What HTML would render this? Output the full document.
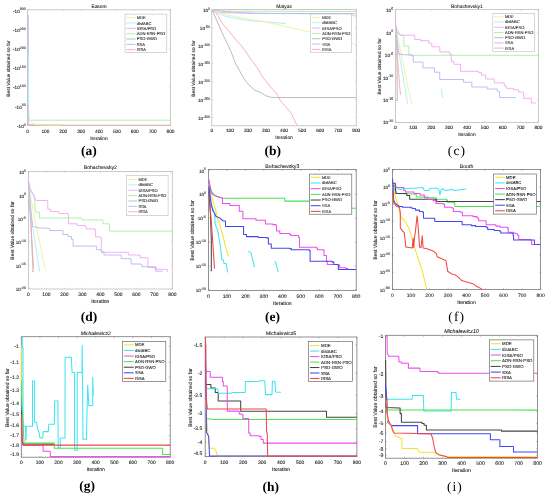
<!DOCTYPE html><html><head><meta charset="utf-8"><title>Convergence curves</title><style>html,body{margin:0;padding:0;background:#fff;overflow:hidden}svg{display:block;text-rendering:geometricPrecision}text{font-family:"Liberation Sans",Arial,sans-serif;fill:#1a1a1a;stroke:#1a1a1a;stroke-width:0.09px}text.cap{font-family:"Liberation Serif","Times New Roman",serif;fill:#000;stroke:none}</style></head><body>
<svg width="550" height="498" viewBox="0 0 550 498"><rect width="550" height="498" fill="#fff"/>
<g id="pa">
<clipPath id="ca"><rect x="26.90" y="9.20" width="144.20" height="117.00"/></clipPath>
<path d="M27.50,125.6v-1.4M27.50,9.8v1.4M45.38,125.6v-1.4M45.38,9.8v1.4M63.25,125.6v-1.4M63.25,9.8v1.4M81.12,125.6v-1.4M81.12,9.8v1.4M99.00,125.6v-1.4M99.00,9.8v1.4M116.88,125.6v-1.4M116.88,9.8v1.4M134.75,125.6v-1.4M134.75,9.8v1.4M152.62,125.6v-1.4M152.62,9.8v1.4M170.50,125.6v-1.4M170.50,9.8v1.4M27.5,10.20h1.4M170.5,10.20h-1.4M27.5,29.43h1.4M170.5,29.43h-1.4M27.5,48.67h1.4M170.5,48.67h-1.4M27.5,67.90h1.4M170.5,67.90h-1.4M27.5,87.13h1.4M170.5,87.13h-1.4M27.5,106.37h1.4M170.5,106.37h-1.4M27.5,125.60h1.4M170.5,125.60h-1.4" stroke="#bdbdbd" stroke-width="0.5" fill="none"/>
<rect x="27.5" y="9.8" width="143.00" height="115.80" fill="none" stroke="#bdbdbd" stroke-width="0.8"/>
<g clip-path="url(#ca)" fill="none" stroke-linejoin="round">
<polyline points="28.00,122.00 28.50,125.20 170.50,125.20" stroke="#f4aaaa" stroke-width="0.9"/>
<polyline points="28.20,120.00 28.80,125.00 60.00,125.10" stroke="#b4b4b4" stroke-width="0.9"/>
<polyline points="28.30,14.80 28.30,125.00 31.00,125.00" stroke="#b8b8f2" stroke-width="0.9"/>
<polyline points="28.50,53.00 28.50,124.50" stroke="#a6eef6" stroke-width="0.9"/>
<polyline points="28.00,105.50 28.10,125.00 30.50,125.10" stroke="#f3a6f3" stroke-width="0.9"/>
<polyline points="28.60,112.00 29.30,120.20 170.50,120.20" stroke="#a8eea8" stroke-width="0.9"/>
<polyline points="28.70,119.50 31.00,122.50 35.00,124.30 42.00,125.00 60.00,125.20" stroke="#f2ee9a" stroke-width="0.9"/>
</g>
<text x="27.50" y="132.72" font-size="4.79" text-anchor="middle">0</text>
<text x="45.38" y="132.72" font-size="4.79" text-anchor="middle">100</text>
<text x="63.25" y="132.72" font-size="4.79" text-anchor="middle">200</text>
<text x="81.12" y="132.72" font-size="4.79" text-anchor="middle">300</text>
<text x="99.00" y="132.72" font-size="4.79" text-anchor="middle">400</text>
<text x="116.88" y="132.72" font-size="4.79" text-anchor="middle">500</text>
<text x="134.75" y="132.72" font-size="4.79" text-anchor="middle">600</text>
<text x="152.62" y="132.72" font-size="4.79" text-anchor="middle">700</text>
<text x="170.50" y="132.72" font-size="4.79" text-anchor="middle">800</text>
<text x="25.70" y="12.55" font-size="4.60" text-anchor="end">-10<tspan font-size="3.60" dy="-2.26">300</tspan></text>
<text x="25.70" y="31.78" font-size="4.60" text-anchor="end">-10<tspan font-size="3.60" dy="-2.26">250</tspan></text>
<text x="25.70" y="51.01" font-size="4.60" text-anchor="end">-10<tspan font-size="3.60" dy="-2.26">200</tspan></text>
<text x="25.70" y="70.25" font-size="4.60" text-anchor="end">-10<tspan font-size="3.60" dy="-2.26">150</tspan></text>
<text x="25.70" y="89.48" font-size="4.60" text-anchor="end">-10<tspan font-size="3.60" dy="-2.26">100</tspan></text>
<text x="25.70" y="108.71" font-size="4.60" text-anchor="end">-10<tspan font-size="3.60" dy="-2.26">50</tspan></text>
<text x="25.70" y="127.95" font-size="4.60" text-anchor="end">-10<tspan font-size="3.60" dy="-2.26">0</tspan></text>
<text x="99.00" y="7.76" font-size="4.90" text-anchor="middle">Easom</text>
<text x="99.00" y="139.54" font-size="4.84" text-anchor="middle">Iteration</text>
<text transform="translate(10.14,68.55) rotate(-90)" font-size="4.84" text-anchor="middle">Best Value obtained so far</text>
<rect x="125" y="14.1" width="41.80" height="38.60" fill="#fff" stroke="#bdbdbd" stroke-width="0.6"/>
<line x1="126.4" y1="17.70" x2="135.6" y2="17.70" stroke="#f2ee9a" stroke-width="0.9"/>
<text x="136.8" y="19.17" font-size="4.07">MDE</text>
<line x1="126.4" y1="23.03" x2="135.6" y2="23.03" stroke="#a6eef6" stroke-width="0.9"/>
<text x="136.8" y="24.50" font-size="4.07">distABC</text>
<line x1="126.4" y1="28.36" x2="135.6" y2="28.36" stroke="#f3a6f3" stroke-width="0.9"/>
<text x="136.8" y="29.83" font-size="4.07">IGSA/PSO</text>
<line x1="126.4" y1="33.69" x2="135.6" y2="33.69" stroke="#a8eea8" stroke-width="0.9"/>
<text x="136.8" y="35.16" font-size="4.07">ADN-RSN-PSO</text>
<line x1="126.4" y1="39.02" x2="135.6" y2="39.02" stroke="#b4b4b4" stroke-width="0.9"/>
<text x="136.8" y="40.49" font-size="4.07">PSO-GWO</text>
<line x1="126.4" y1="44.35" x2="135.6" y2="44.35" stroke="#b8b8f2" stroke-width="0.9"/>
<text x="136.8" y="45.82" font-size="4.07">SSA</text>
<line x1="126.4" y1="49.68" x2="135.6" y2="49.68" stroke="#f4aaaa" stroke-width="0.9"/>
<text x="136.8" y="51.15" font-size="4.07">ISSA</text>
<text class="cap" x="88.90" y="155.00" font-size="13.5" text-anchor="middle" font-weight="bold">(a)</text>
</g>
<g id="pb">
<clipPath id="cb"><rect x="211.20" y="9.00" width="145.70" height="117.40"/></clipPath>
<path d="M211.80,125.8v-1.4M211.80,9.6v1.4M229.86,125.8v-1.4M229.86,9.6v1.4M247.93,125.8v-1.4M247.93,9.6v1.4M265.99,125.8v-1.4M265.99,9.6v1.4M284.05,125.8v-1.4M284.05,9.6v1.4M302.11,125.8v-1.4M302.11,9.6v1.4M320.18,125.8v-1.4M320.18,9.6v1.4M338.24,125.8v-1.4M338.24,9.6v1.4M356.30,125.8v-1.4M356.30,9.6v1.4M211.8,10.00h1.4M356.3,10.00h-1.4M211.8,27.92h1.4M356.3,27.92h-1.4M211.8,45.83h1.4M356.3,45.83h-1.4M211.8,63.75h1.4M356.3,63.75h-1.4M211.8,81.67h1.4M356.3,81.67h-1.4M211.8,99.58h1.4M356.3,99.58h-1.4M211.8,117.50h1.4M356.3,117.50h-1.4" stroke="#bdbdbd" stroke-width="0.5" fill="none"/>
<rect x="211.8" y="9.6" width="144.50" height="116.20" fill="none" stroke="#bdbdbd" stroke-width="0.8"/>
<g clip-path="url(#cb)" fill="none" stroke-linejoin="round">
<polyline points="212.00,10.40 230.00,11.20 356.30,11.50" stroke="#a8eea8" stroke-width="0.9"/>
<polyline points="212.00,10.40 240.00,12.60 256.00,13.40 356.30,13.60" stroke="#f3a6f3" stroke-width="0.9"/>
<polyline points="212.00,10.40 220.00,12.60 268.00,13.50 352.00,13.90 353.50,15.80 356.30,15.90" stroke="#b8b8f2" stroke-width="0.9"/>
<polyline points="212.20,10.40 217.60,13.40 226.00,16.40 238.00,18.90 250.20,20.70 262.20,21.60 268.00,21.90 280.00,23.10 286.00,23.50" stroke="#a6eef6" stroke-width="0.9"/>
<polyline points="212.20,10.40 226.00,14.60 238.00,17.00 250.20,19.50 262.20,21.30 268.00,22.50 283.50,26.00 309.00,31.90 356.30,44.60" stroke="#f2ee9a" stroke-width="0.9"/>
<polyline points="212.20,10.40 215.20,17.00 220.00,27.90 223.70,36.30 228.50,46.00 232.10,54.40 235.70,64.00 240.10,71.60 244.60,79.80 249.10,85.10 255.10,90.40 261.10,92.60 265.70,95.70 270.20,97.20 276.20,97.50 356.30,97.50" stroke="#b4b4b4" stroke-width="0.9"/>
<polyline points="212.80,10.40 216.40,13.40 220.00,19.50 222.50,23.70 227.30,29.10 232.10,35.10 236.90,41.10 241.70,46.00 245.30,50.80 249.00,56.80 254.00,63.20 258.00,69.00 262.60,76.80 270.20,86.60 277.70,94.90 280.00,100.20 285.20,106.20 290.50,112.20 294.30,119.80 297.30,125.80" stroke="#f4aaaa" stroke-width="0.9"/>
</g>
<text x="211.80" y="132.41" font-size="4.78" text-anchor="middle">0</text>
<text x="229.86" y="132.41" font-size="4.78" text-anchor="middle">100</text>
<text x="247.93" y="132.41" font-size="4.78" text-anchor="middle">200</text>
<text x="265.99" y="132.41" font-size="4.78" text-anchor="middle">300</text>
<text x="284.05" y="132.41" font-size="4.78" text-anchor="middle">400</text>
<text x="302.11" y="132.41" font-size="4.78" text-anchor="middle">500</text>
<text x="320.18" y="132.41" font-size="4.78" text-anchor="middle">600</text>
<text x="338.24" y="132.41" font-size="4.78" text-anchor="middle">700</text>
<text x="356.30" y="132.41" font-size="4.78" text-anchor="middle">800</text>
<text x="209.90" y="12.33" font-size="4.55" text-anchor="end">10<tspan font-size="3.45" dy="-2.29">0</tspan></text>
<text x="209.90" y="30.25" font-size="4.55" text-anchor="end">10<tspan font-size="3.45" dy="-2.29">-50</tspan></text>
<text x="209.90" y="48.16" font-size="4.55" text-anchor="end">10<tspan font-size="3.45" dy="-2.29">-100</tspan></text>
<text x="209.90" y="66.08" font-size="4.55" text-anchor="end">10<tspan font-size="3.45" dy="-2.29">-150</tspan></text>
<text x="209.90" y="84.00" font-size="4.55" text-anchor="end">10<tspan font-size="3.45" dy="-2.29">-200</tspan></text>
<text x="209.90" y="101.91" font-size="4.55" text-anchor="end">10<tspan font-size="3.45" dy="-2.29">-250</tspan></text>
<text x="209.90" y="119.83" font-size="4.55" text-anchor="end">10<tspan font-size="3.45" dy="-2.29">-300</tspan></text>
<text x="284.05" y="7.86" font-size="4.88" text-anchor="middle">Matyas</text>
<text x="284.05" y="139.24" font-size="4.83" text-anchor="middle">Iteration</text>
<text transform="translate(195.14,68.50) rotate(-90)" font-size="4.83" text-anchor="middle">Best Value obtained so far</text>
<rect x="310.3" y="14.0" width="41.30" height="38.30" fill="#fff" stroke="#bdbdbd" stroke-width="0.6"/>
<line x1="312" y1="17.40" x2="320.4" y2="17.40" stroke="#f2ee9a" stroke-width="0.9"/>
<text x="322.2" y="18.86" font-size="4.06">MDE</text>
<line x1="312" y1="22.73" x2="320.4" y2="22.73" stroke="#a6eef6" stroke-width="0.9"/>
<text x="322.2" y="24.19" font-size="4.06">distABC</text>
<line x1="312" y1="28.06" x2="320.4" y2="28.06" stroke="#f3a6f3" stroke-width="0.9"/>
<text x="322.2" y="29.52" font-size="4.06">IGSA/PSO</text>
<line x1="312" y1="33.39" x2="320.4" y2="33.39" stroke="#a8eea8" stroke-width="0.9"/>
<text x="322.2" y="34.85" font-size="4.06">ADN-RSN-PSO</text>
<line x1="312" y1="38.72" x2="320.4" y2="38.72" stroke="#b4b4b4" stroke-width="0.9"/>
<text x="322.2" y="40.18" font-size="4.06">PSO-GWO</text>
<line x1="312" y1="44.05" x2="320.4" y2="44.05" stroke="#b8b8f2" stroke-width="0.9"/>
<text x="322.2" y="45.51" font-size="4.06">SSA</text>
<line x1="312" y1="49.38" x2="320.4" y2="49.38" stroke="#f4aaaa" stroke-width="0.9"/>
<text x="322.2" y="50.84" font-size="4.06">ISSA</text>
<text class="cap" x="272.80" y="155.00" font-size="13.5" text-anchor="middle" font-weight="bold">(b)</text>
</g>
<g id="pc">
<clipPath id="cc"><rect x="394.80" y="8.90" width="144.20" height="114.20"/></clipPath>
<path d="M395.40,122.5v-1.4M395.40,9.5v1.4M413.27,122.5v-1.4M413.27,9.5v1.4M431.15,122.5v-1.4M431.15,9.5v1.4M449.02,122.5v-1.4M449.02,9.5v1.4M466.90,122.5v-1.4M466.90,9.5v1.4M484.77,122.5v-1.4M484.77,9.5v1.4M502.65,122.5v-1.4M502.65,9.5v1.4M520.52,122.5v-1.4M520.52,9.5v1.4M538.40,122.5v-1.4M538.40,9.5v1.4M395.4,9.90h1.4M538.4,9.90h-1.4M395.4,32.32h1.4M538.4,32.32h-1.4M395.4,54.74h1.4M538.4,54.74h-1.4M395.4,77.16h1.4M538.4,77.16h-1.4M395.4,99.58h1.4M538.4,99.58h-1.4M395.4,122.00h1.4M538.4,122.00h-1.4" stroke="#bdbdbd" stroke-width="0.5" fill="none"/>
<rect x="395.4" y="9.5" width="143.00" height="113.00" fill="none" stroke="#bdbdbd" stroke-width="0.8"/>
<g clip-path="url(#cc)" fill="none" stroke-linejoin="round">
<polyline points="395.80,30.00 396.80,45.00 397.30,100.50 396.00,100.50" stroke="#b4b4b4" stroke-width="0.9"/>
<polyline points="395.60,28.00 395.80,32.30 399.50,85.00 400.50,94.70" stroke="#f4aaaa" stroke-width="0.9"/>
<polyline points="395.60,28.00 395.80,33.70 404.50,85.00 407.50,103.50" stroke="#a6eef6" stroke-width="0.9"/>
<polyline points="441.20,88.90 442.70,97.60" stroke="#a6eef6" stroke-width="0.9"/>
<polyline points="395.80,25.00 396.50,30.80 407.50,85.00 411.80,103.50" stroke="#f2ee9a" stroke-width="0.9"/>
<polyline points="395.50,25.00 400.20,35.20 403.80,35.20 403.80,46.10 408.90,46.10 408.90,55.30 538.40,55.30" stroke="#a8eea8" stroke-width="0.9"/>
<polyline points="395.80,28.00 398.70,54.10 404.50,54.80 412.50,54.80 412.50,56.30 413.30,56.30 413.30,62.10 422.70,62.10 422.90,62.10 422.90,67.90 434.40,67.90 434.60,67.90 434.60,72.20 439.50,72.20 439.70,72.20 439.70,79.50 463.30,79.50 463.50,79.50 463.50,82.20 471.60,82.20 471.80,82.20 471.80,87.00 487.00,87.00 487.20,87.00 487.20,89.00 497.10,89.00 497.30,89.00 497.30,91.40 499.40,91.40 499.60,91.40 499.60,97.60 515.60,97.60" stroke="#b8b8f2" stroke-width="0.9"/>
<polyline points="395.50,15.80 395.80,28.00 396.50,31.50 400.20,35.20 414.40,35.20 414.80,35.20 414.80,39.50 420.50,39.50 420.50,40.70 428.50,40.70 428.80,40.70 428.80,43.20 431.50,43.20 431.80,43.20 431.80,46.80 439.50,46.80 439.80,46.80 439.80,51.90 449.60,51.90 449.60,54.10 451.10,54.10 451.30,54.10 451.30,61.40 454.00,61.40 454.00,64.30 460.30,64.30 460.50,64.30 460.50,71.30 475.50,71.30 478.50,71.30 478.50,72.80 481.00,72.80 481.50,72.80 481.50,75.10 485.50,75.10 485.70,75.10 485.70,79.00 494.00,79.00 494.30,79.00 494.30,82.90 504.00,82.90 504.30,82.90 504.30,86.00 506.40,86.00 506.40,88.30 513.30,88.30 513.50,88.30 513.50,89.80 518.70,89.80 518.70,92.10 523.40,92.10 523.60,92.10 523.60,98.30 531.10,98.30 531.30,98.30 531.30,103.00 535.70,103.00" stroke="#f3a6f3" stroke-width="0.9"/>
</g>
<text x="395.40" y="129.31" font-size="4.78" text-anchor="middle">0</text>
<text x="413.27" y="129.31" font-size="4.78" text-anchor="middle">100</text>
<text x="431.15" y="129.31" font-size="4.78" text-anchor="middle">200</text>
<text x="449.02" y="129.31" font-size="4.78" text-anchor="middle">300</text>
<text x="466.90" y="129.31" font-size="4.78" text-anchor="middle">400</text>
<text x="484.77" y="129.31" font-size="4.78" text-anchor="middle">500</text>
<text x="502.65" y="129.31" font-size="4.78" text-anchor="middle">600</text>
<text x="520.52" y="129.31" font-size="4.78" text-anchor="middle">700</text>
<text x="538.40" y="129.31" font-size="4.78" text-anchor="middle">800</text>
<text x="393.10" y="12.25" font-size="4.60" text-anchor="end">10<tspan font-size="3.50" dy="-2.29">5</tspan></text>
<text x="393.10" y="34.67" font-size="4.60" text-anchor="end">10<tspan font-size="3.50" dy="-2.29">0</tspan></text>
<text x="393.10" y="57.09" font-size="4.60" text-anchor="end">10<tspan font-size="3.50" dy="-2.29">-5</tspan></text>
<text x="393.10" y="79.51" font-size="4.60" text-anchor="end">10<tspan font-size="3.50" dy="-2.29">-10</tspan></text>
<text x="393.10" y="101.93" font-size="4.60" text-anchor="end">10<tspan font-size="3.50" dy="-2.29">-15</tspan></text>
<text x="393.10" y="124.35" font-size="4.60" text-anchor="end">10<tspan font-size="3.50" dy="-2.29">-20</tspan></text>
<text x="466.90" y="7.86" font-size="4.88" text-anchor="middle">Bohachevsky1</text>
<text x="466.90" y="135.64" font-size="4.83" text-anchor="middle">Iteration</text>
<text transform="translate(380.94,66.30) rotate(-90)" font-size="4.83" text-anchor="middle">Best Value obtained so far</text>
<rect x="492.8" y="13.5" width="41.80" height="37.80" fill="#fff" stroke="#bdbdbd" stroke-width="0.6"/>
<line x1="494.2" y1="16.80" x2="503.6" y2="16.80" stroke="#f2ee9a" stroke-width="0.9"/>
<text x="505" y="18.26" font-size="4.06">MDE</text>
<line x1="494.2" y1="22.02" x2="503.6" y2="22.02" stroke="#a6eef6" stroke-width="0.9"/>
<text x="505" y="23.48" font-size="4.06">distABC</text>
<line x1="494.2" y1="27.24" x2="503.6" y2="27.24" stroke="#f3a6f3" stroke-width="0.9"/>
<text x="505" y="28.70" font-size="4.06">IGSA/PSO</text>
<line x1="494.2" y1="32.46" x2="503.6" y2="32.46" stroke="#a8eea8" stroke-width="0.9"/>
<text x="505" y="33.92" font-size="4.06">ADN-RSN-PSO</text>
<line x1="494.2" y1="37.68" x2="503.6" y2="37.68" stroke="#b4b4b4" stroke-width="0.9"/>
<text x="505" y="39.14" font-size="4.06">PSO-GWO</text>
<line x1="494.2" y1="42.90" x2="503.6" y2="42.90" stroke="#b8b8f2" stroke-width="0.9"/>
<text x="505" y="44.36" font-size="4.06">SSA</text>
<line x1="494.2" y1="48.12" x2="503.6" y2="48.12" stroke="#f4aaaa" stroke-width="0.9"/>
<text x="505" y="49.58" font-size="4.06">ISSA</text>
<text class="cap" x="456.95" y="155.00" font-size="13.5" text-anchor="middle" font-weight="normal" letter-spacing="1.1">(c)</text>
</g>
<g id="pd">
<clipPath id="cd"><rect x="27.80" y="170.90" width="145.10" height="118.70"/></clipPath>
<path d="M28.40,289.0v-1.4M28.40,171.5v1.4M46.39,289.0v-1.4M46.39,171.5v1.4M64.38,289.0v-1.4M64.38,171.5v1.4M82.36,289.0v-1.4M82.36,171.5v1.4M100.35,289.0v-1.4M100.35,171.5v1.4M118.34,289.0v-1.4M118.34,171.5v1.4M136.33,289.0v-1.4M136.33,171.5v1.4M154.31,289.0v-1.4M154.31,171.5v1.4M172.30,289.0v-1.4M172.30,171.5v1.4M28.4,172.00h1.4M172.3,172.00h-1.4M28.4,195.32h1.4M172.3,195.32h-1.4M28.4,218.64h1.4M172.3,218.64h-1.4M28.4,241.96h1.4M172.3,241.96h-1.4M28.4,265.28h1.4M172.3,265.28h-1.4M28.4,288.60h1.4M172.3,288.60h-1.4" stroke="#bdbdbd" stroke-width="0.5" fill="none"/>
<rect x="28.4" y="171.5" width="143.90" height="117.50" fill="none" stroke="#bdbdbd" stroke-width="0.8"/>
<g clip-path="url(#cd)" fill="none" stroke-linejoin="round">
<polyline points="28.60,200.00 30.50,215.00 33.10,271.50 32.00,271.50" stroke="#b4b4b4" stroke-width="0.9"/>
<polyline points="28.40,184.50 30.90,225.00 33.40,265.70 33.60,269.00" stroke="#f4aaaa" stroke-width="0.9"/>
<polyline points="28.40,187.50 30.90,215.00 32.40,225.00 39.60,271.50" stroke="#a6eef6" stroke-width="0.9"/>
<polyline points="28.40,184.50 36.00,225.00 45.50,270.80" stroke="#f2ee9a" stroke-width="0.9"/>
<polyline points="28.40,187.50 31.60,193.30 34.50,195.50 35.30,212.20 38.90,212.20 39.50,212.20 39.50,218.00 80.40,218.00 81.80,218.00 81.80,219.90 102.90,219.90 102.90,220.20 102.90,223.80 109.50,223.80 109.50,224.10 109.50,231.10 172.30,231.10" stroke="#a8eea8" stroke-width="0.9"/>
<polyline points="28.40,181.00 32.40,225.30 33.10,226.50 38.90,227.90 41.80,227.90 41.80,228.20 48.40,228.20 48.40,228.60 49.80,228.60 49.80,230.50 61.50,230.50 61.50,230.80 62.90,230.80 62.90,234.50 68.00,234.50 68.00,236.60 71.60,236.60 71.60,239.50 73.10,239.50 73.10,246.10 95.60,246.10 96.40,246.10 96.40,249.60 100.40,249.60 101.30,249.60 101.30,252.30 104.00,252.30 104.00,255.00 120.30,255.00 121.20,255.00 121.20,258.60 130.20,258.60 130.20,259.00 131.10,259.00 131.10,264.00 141.00,264.00 141.00,264.40 141.90,264.40 141.90,266.70 148.00,266.70 148.20,266.70 148.20,267.60 155.30,267.60 155.50,267.60 155.50,271.20 162.70,271.20" stroke="#b8b8f2" stroke-width="0.9"/>
<polyline points="28.40,180.20 30.00,188.00 33.80,195.50 36.00,200.50 47.60,200.50 47.60,202.00 47.80,202.00 47.80,209.30 50.50,209.30 50.50,211.50 58.50,211.50 58.50,212.90 59.30,212.90 59.30,213.60 68.00,213.60 68.00,214.40 68.50,214.40 68.50,223.80 76.70,223.80 76.70,224.50 77.50,224.50 77.50,225.50 85.50,225.50 85.50,226.50 86.20,226.50 86.20,228.90 94.90,228.90 94.90,230.40 95.60,230.40 95.60,236.90 100.40,236.90 100.40,237.80 101.30,237.80 101.30,251.40 104.00,251.40 104.00,252.30 127.50,252.30 128.40,252.30 128.40,255.00 138.30,255.00 138.30,255.30 140.10,255.30 140.10,257.70 147.30,257.70 147.90,257.70 147.90,266.70 155.50,266.70 155.50,267.50 156.40,267.50 156.40,269.40 165.40,269.40 167.20,269.40 167.20,271.20 168.00,271.20" stroke="#f3a6f3" stroke-width="0.9"/>
</g>
<text x="28.40" y="295.88" font-size="4.97" text-anchor="middle">0</text>
<text x="46.39" y="295.88" font-size="4.97" text-anchor="middle">100</text>
<text x="64.38" y="295.88" font-size="4.97" text-anchor="middle">200</text>
<text x="82.36" y="295.88" font-size="4.97" text-anchor="middle">300</text>
<text x="100.35" y="295.88" font-size="4.97" text-anchor="middle">400</text>
<text x="118.34" y="295.88" font-size="4.97" text-anchor="middle">500</text>
<text x="136.33" y="295.88" font-size="4.97" text-anchor="middle">600</text>
<text x="154.31" y="295.88" font-size="4.97" text-anchor="middle">700</text>
<text x="172.30" y="295.88" font-size="4.97" text-anchor="middle">800</text>
<text x="25.90" y="174.31" font-size="4.50" text-anchor="end">10<tspan font-size="3.60" dy="-2.22">5</tspan></text>
<text x="25.90" y="197.63" font-size="4.50" text-anchor="end">10<tspan font-size="3.60" dy="-2.22">0</tspan></text>
<text x="25.90" y="220.95" font-size="4.50" text-anchor="end">10<tspan font-size="3.60" dy="-2.22">-5</tspan></text>
<text x="25.90" y="244.27" font-size="4.50" text-anchor="end">10<tspan font-size="3.60" dy="-2.22">-10</tspan></text>
<text x="25.90" y="267.59" font-size="4.50" text-anchor="end">10<tspan font-size="3.60" dy="-2.22">-15</tspan></text>
<text x="25.90" y="290.91" font-size="4.50" text-anchor="end">10<tspan font-size="3.60" dy="-2.22">-20</tspan></text>
<text x="100.35" y="169.23" font-size="5.08" text-anchor="middle">Bohachevsky2</text>
<text x="100.35" y="302.91" font-size="5.03" text-anchor="middle">Iteration</text>
<text transform="translate(13.71,230.45) rotate(-90)" font-size="5.03" text-anchor="middle">Best Value obtained so far</text>
<rect x="126.5" y="175.5" width="41.60" height="39.90" fill="#fff" stroke="#bdbdbd" stroke-width="0.6"/>
<line x1="128.4" y1="179.50" x2="137.1" y2="179.50" stroke="#f2ee9a" stroke-width="0.9"/>
<text x="138.5" y="180.94" font-size="3.99">MDE</text>
<line x1="128.4" y1="184.87" x2="137.1" y2="184.87" stroke="#a6eef6" stroke-width="0.9"/>
<text x="138.5" y="186.31" font-size="3.99">distABC</text>
<line x1="128.4" y1="190.24" x2="137.1" y2="190.24" stroke="#f3a6f3" stroke-width="0.9"/>
<text x="138.5" y="191.68" font-size="3.99">IGSA/PSO</text>
<line x1="128.4" y1="195.61" x2="137.1" y2="195.61" stroke="#a8eea8" stroke-width="0.9"/>
<text x="138.5" y="197.05" font-size="3.99">ADN-RSN-PSO</text>
<line x1="128.4" y1="200.98" x2="137.1" y2="200.98" stroke="#b4b4b4" stroke-width="0.9"/>
<text x="138.5" y="202.42" font-size="3.99">PSO-GWO</text>
<line x1="128.4" y1="206.35" x2="137.1" y2="206.35" stroke="#b8b8f2" stroke-width="0.9"/>
<text x="138.5" y="207.79" font-size="3.99">SSA</text>
<line x1="128.4" y1="211.72" x2="137.1" y2="211.72" stroke="#f4aaaa" stroke-width="0.9"/>
<text x="138.5" y="213.16" font-size="3.99">ISSA</text>
<text class="cap" x="88.90" y="320.60" font-size="13.5" text-anchor="middle" font-weight="bold">(d)</text>
</g>
<g id="pe">
<clipPath id="ce"><rect x="207.90" y="169.00" width="148.90" height="122.00"/></clipPath>
<path d="M208.50,290.4v-1.4M208.50,169.6v1.4M226.96,290.4v-1.4M226.96,169.6v1.4M245.43,290.4v-1.4M245.43,169.6v1.4M263.89,290.4v-1.4M263.89,169.6v1.4M282.35,290.4v-1.4M282.35,169.6v1.4M300.81,290.4v-1.4M300.81,169.6v1.4M319.27,290.4v-1.4M319.27,169.6v1.4M337.74,290.4v-1.4M337.74,169.6v1.4M356.20,290.4v-1.4M356.20,169.6v1.4M208.5,170.20h1.4M356.2,170.20h-1.4M208.5,194.16h1.4M356.2,194.16h-1.4M208.5,218.12h1.4M356.2,218.12h-1.4M208.5,242.08h1.4M356.2,242.08h-1.4M208.5,266.04h1.4M356.2,266.04h-1.4M208.5,290.00h1.4M356.2,290.00h-1.4" stroke="#777" stroke-width="0.5" fill="none"/>
<rect x="208.5" y="169.6" width="147.70" height="120.80" fill="none" stroke="#777" stroke-width="0.8"/>
<g clip-path="url(#ce)" fill="none" stroke-linejoin="round">
<polyline points="209.00,191.20 210.50,215.00 211.30,240.00 211.30,270.80 210.50,270.80" stroke="#444444" stroke-width="1.05"/>
<polyline points="209.00,185.40 210.20,208.60 211.60,225.00 214.50,268.60" stroke="#f04646" stroke-width="1.05"/>
<polyline points="209.00,185.40 211.60,205.70 214.50,213.00 215.30,225.00 217.50,229.40 220.40,246.80 221.80,259.20 223.30,259.90 224.00,263.50 226.20,263.50 227.60,272.30" stroke="#3ee6f0" stroke-width="1.05"/>
<polyline points="248.30,251.20 250.90,252.60 254.50,267.20" stroke="#3ee6f0" stroke-width="1.05"/>
<polyline points="274.90,261.30 275.60,262.10 278.20,271.90" stroke="#3ee6f0" stroke-width="1.05"/>
<polyline points="209.00,183.90 213.10,201.40 216.00,211.50 217.50,218.80 219.50,223.00 221.10,230.00 223.30,236.60 224.70,243.90 228.40,256.30" stroke="#f2e432" stroke-width="1.05"/>
<polyline points="209.00,182.50 211.60,191.20 214.50,195.50 218.90,197.30 222.50,198.20 283.90,198.20 284.70,198.20 284.70,201.10 350.50,201.10 351.00,201.10 351.00,208.30 356.20,208.30" stroke="#4ee24e" stroke-width="1.05"/>
<polyline points="209.00,179.50 210.90,192.60 214.50,195.50 221.80,197.70 222.50,197.70 222.50,203.50 229.10,203.50 229.80,203.50 229.80,205.40 238.50,205.40 239.30,205.40 239.30,211.30 242.20,211.30 242.90,211.30 242.90,218.80 255.30,218.80 256.00,218.80 256.00,220.30 264.70,220.30 265.50,220.30 265.50,223.90 272.70,223.90 272.70,224.60 275.60,224.60 275.60,225.20 276.50,225.20 276.50,230.90 279.80,230.90 279.80,233.40 289.60,233.40 289.60,234.50 291.00,234.50 291.00,235.50 298.60,235.50 298.60,237.50 299.50,237.50 299.50,247.30 316.60,247.30 316.60,248.10 317.50,248.10 317.50,249.80 323.20,249.80 323.20,250.10 324.00,250.10 324.00,255.50 326.50,255.50 326.50,261.30 327.30,261.30 327.30,264.50 338.70,264.50 338.70,264.90 339.60,264.90 339.60,267.80 346.00,267.80 346.00,268.50 347.70,268.50 347.70,269.50 356.20,269.50" stroke="#f04ef0" stroke-width="1.05"/>
<polyline points="209.00,186.80 210.90,202.80 213.10,211.50 214.50,213.00 216.00,216.60 218.90,217.40 223.30,221.00 225.50,221.00 225.50,225.40 225.50,226.50 242.90,226.50 243.60,226.50 243.60,234.50 246.50,234.50 246.50,236.60 256.70,236.60 258.20,236.60 258.20,237.40 266.90,237.40 266.90,238.10 268.40,238.10 268.40,243.90 271.30,243.90 271.30,248.30 289.60,248.30 289.60,248.60 291.30,248.60 291.30,249.80 309.30,249.80 309.30,250.60 310.10,250.60 310.10,261.30 326.50,261.30 332.20,261.30 332.20,262.10 333.80,262.10 333.80,264.50 338.00,264.50 338.00,265.00 338.40,265.00 338.40,269.50 356.20,269.50" stroke="#4646f0" stroke-width="1.05"/>
</g>
<text x="208.50" y="297.84" font-size="5.13" text-anchor="middle">0</text>
<text x="226.96" y="297.84" font-size="5.13" text-anchor="middle">100</text>
<text x="245.43" y="297.84" font-size="5.13" text-anchor="middle">200</text>
<text x="263.89" y="297.84" font-size="5.13" text-anchor="middle">300</text>
<text x="282.35" y="297.84" font-size="5.13" text-anchor="middle">400</text>
<text x="300.81" y="297.84" font-size="5.13" text-anchor="middle">500</text>
<text x="319.27" y="297.84" font-size="5.13" text-anchor="middle">600</text>
<text x="337.74" y="297.84" font-size="5.13" text-anchor="middle">700</text>
<text x="356.20" y="297.84" font-size="5.13" text-anchor="middle">800</text>
<text x="206.00" y="172.51" font-size="4.50" text-anchor="end">10<tspan font-size="3.60" dy="-2.22">5</tspan></text>
<text x="206.00" y="196.47" font-size="4.50" text-anchor="end">10<tspan font-size="3.60" dy="-2.22">0</tspan></text>
<text x="206.00" y="220.43" font-size="4.50" text-anchor="end">10<tspan font-size="3.60" dy="-2.22">-5</tspan></text>
<text x="206.00" y="244.39" font-size="4.50" text-anchor="end">10<tspan font-size="3.60" dy="-2.22">-10</tspan></text>
<text x="206.00" y="268.35" font-size="4.50" text-anchor="end">10<tspan font-size="3.60" dy="-2.22">-15</tspan></text>
<text x="206.00" y="292.31" font-size="4.50" text-anchor="end">10<tspan font-size="3.60" dy="-2.22">-20</tspan></text>
<text x="282.35" y="167.79" font-size="5.24" text-anchor="middle">Bohachevsky3</text>
<text x="282.35" y="304.77" font-size="5.19" text-anchor="middle">Iteration</text>
<text transform="translate(193.97,230.40) rotate(-90)" font-size="5.19" text-anchor="middle">Best Value obtained so far</text>
<rect x="309.4" y="174.1" width="42.40" height="40.10" fill="#fff" stroke="#555" stroke-width="0.6"/>
<line x1="310.7" y1="177.30" x2="320.7" y2="177.30" stroke="#f2e432" stroke-width="1.05"/>
<text x="322" y="178.76" font-size="4.06">MDE</text>
<line x1="310.7" y1="182.98" x2="320.7" y2="182.98" stroke="#3ee6f0" stroke-width="1.05"/>
<text x="322" y="184.44" font-size="4.06">distABC</text>
<line x1="310.7" y1="188.66" x2="320.7" y2="188.66" stroke="#f04ef0" stroke-width="1.05"/>
<text x="322" y="190.12" font-size="4.06">IGSA/PSO</text>
<line x1="310.7" y1="194.34" x2="320.7" y2="194.34" stroke="#4ee24e" stroke-width="1.05"/>
<text x="322" y="195.80" font-size="4.06">ADN-RSN-PSO</text>
<line x1="310.7" y1="200.02" x2="320.7" y2="200.02" stroke="#444444" stroke-width="1.05"/>
<text x="322" y="201.48" font-size="4.06">PSO-GWO</text>
<line x1="310.7" y1="205.70" x2="320.7" y2="205.70" stroke="#4646f0" stroke-width="1.05"/>
<text x="322" y="207.16" font-size="4.06">SSA</text>
<line x1="310.7" y1="211.38" x2="320.7" y2="211.38" stroke="#f04646" stroke-width="1.05"/>
<text x="322" y="212.84" font-size="4.06">ISSA</text>
<text class="cap" x="272.50" y="320.60" font-size="13.5" text-anchor="middle" font-weight="bold">(e)</text>
</g>
<g id="pf">
<clipPath id="cf"><rect x="391.90" y="168.80" width="149.30" height="121.40"/></clipPath>
<path d="M392.50,289.6v-1.4M392.50,169.4v1.4M411.01,289.6v-1.4M411.01,169.4v1.4M429.52,289.6v-1.4M429.52,169.4v1.4M448.04,289.6v-1.4M448.04,169.4v1.4M466.55,289.6v-1.4M466.55,169.4v1.4M485.06,289.6v-1.4M485.06,169.4v1.4M503.58,289.6v-1.4M503.58,169.4v1.4M522.09,289.6v-1.4M522.09,169.4v1.4M540.60,289.6v-1.4M540.60,169.4v1.4M392.5,170.00h1.4M540.6,170.00h-1.4M392.5,187.03h1.4M540.6,187.03h-1.4M392.5,204.06h1.4M540.6,204.06h-1.4M392.5,221.09h1.4M540.6,221.09h-1.4M392.5,238.11h1.4M540.6,238.11h-1.4M392.5,255.14h1.4M540.6,255.14h-1.4M392.5,272.17h1.4M540.6,272.17h-1.4M392.5,289.20h1.4M540.6,289.20h-1.4" stroke="#777" stroke-width="0.5" fill="none"/>
<rect x="392.5" y="169.4" width="148.10" height="120.20" fill="none" stroke="#777" stroke-width="0.8"/>
<g clip-path="url(#cf)" fill="none" stroke-linejoin="round">
<polyline points="392.60,186.80 395.90,198.50 398.10,204.30 399.50,211.50 401.00,217.40 404.50,220.50 408.70,227.70 412.30,239.10 415.50,250.30 418.70,260.00 422.80,272.80 426.80,289.60" stroke="#f2e432" stroke-width="1.05"/>
<polyline points="392.60,183.90 396.60,187.50 399.50,189.70 402.50,189.00 406.80,188.30 414.10,188.30 422.80,187.50 424.30,190.50 428.60,190.50 430.00,188.30 437.40,188.30 438.80,189.70 440.00,194.80 441.00,190.00 442.00,188.80 446.10,190.80 448.00,190.00 452.00,189.50 455.00,190.40 464.80,189.20 466.10,188.70" stroke="#3ee6f0" stroke-width="1.05"/>
<polyline points="392.60,185.40 394.50,189.00 396.60,193.40 414.10,194.10 416.30,194.10 416.30,197.00 428.60,197.00 428.60,197.70 435.90,197.70 435.90,199.20 446.10,199.20 446.10,199.90 447.50,199.90 447.50,202.10 453.40,202.10 453.40,202.80 454.80,202.80 454.80,206.50 540.60,206.50 540.60,206.60" stroke="#4ee24e" stroke-width="1.05"/>
<polyline points="392.60,183.20 395.20,183.20 395.90,193.40 405.40,193.40 406.80,193.40 406.80,195.50 409.70,195.50 409.70,199.20 435.90,199.20 436.60,199.20 436.60,201.40 540.60,201.40" stroke="#444444" stroke-width="1.05"/>
<polyline points="392.60,185.40 397.40,187.50 403.90,187.50 403.90,190.50 405.40,190.50 405.40,192.00 414.10,192.00 414.10,193.40 420.00,193.40 420.00,195.00 424.30,195.00 424.30,197.70 427.20,197.70 427.20,199.20 433.00,199.20 433.00,200.60 435.90,200.60 435.90,203.50 443.20,203.50 443.20,204.30 444.60,204.30 444.60,207.20 451.90,207.20 451.90,207.90 453.40,207.90 453.40,211.50 460.60,211.50 460.60,212.30 462.40,212.30 462.40,215.80 473.00,215.80 473.00,216.60 477.00,216.60 477.00,218.00 478.70,218.00 478.70,220.70 485.30,220.70 486.10,220.70 486.10,224.80 495.90,224.80 495.90,226.10 500.00,226.10 500.00,227.20 507.40,227.20 507.40,228.10 508.20,228.10 508.20,232.20 513.10,232.20 513.10,233.00 515.50,233.00 515.50,233.80 517.80,233.80 517.80,235.50 518.80,235.50 518.80,239.50 531.10,239.50 531.10,240.40 531.60,240.40 531.60,244.50 540.60,244.50" stroke="#f04ef0" stroke-width="1.05"/>
<polyline points="392.60,178.80 393.70,199.90 395.20,203.50 399.50,206.50 402.50,206.50 402.50,207.20 411.20,207.20 411.20,207.90 412.70,207.90 412.70,208.50 415.50,208.50 415.50,210.10 419.40,210.10 419.40,211.50 422.80,211.50 422.80,212.30 423.50,212.30 423.50,217.40 423.60,217.40 423.60,218.20 433.20,218.20 434.80,218.20 434.80,221.40 461.50,221.40 461.50,221.80 462.20,221.80 462.20,224.70 471.40,224.70 471.40,225.60 475.50,225.60 475.50,226.50 486.10,226.50 486.10,227.30 487.70,227.30 487.70,229.40 494.30,229.40 494.30,230.50 500.00,230.50 500.00,231.50 500.80,231.50 500.80,233.00 511.50,233.00 511.50,233.30 513.10,233.30 513.10,235.50 513.60,235.50 513.60,239.90 533.60,239.90 534.40,239.90 534.40,244.50 540.60,244.50" stroke="#4646f0" stroke-width="1.05"/>
<polyline points="392.60,191.20 393.70,202.80 396.60,206.50 399.50,207.20 400.30,213.00 400.30,227.90 402.70,231.10 404.30,232.70 405.90,247.10 412.30,247.90 413.10,238.30 413.70,247.50 414.50,238.00 415.50,231.10 416.30,223.00 417.10,215.80 417.80,223.00 418.50,231.00 419.50,247.10 421.00,247.50 422.30,235.90 423.10,247.90 426.80,248.70 433.20,251.10 436.40,253.60 437.20,256.80 441.20,258.40 446.00,260.80 447.70,271.20 452.50,274.40 455.00,274.70 458.30,277.20 461.50,280.50 466.50,282.10 473.00,283.70 476.30,286.20 481.20,288.60 482.50,289.60" stroke="#f04646" stroke-width="1.05"/>
</g>
<text x="392.50" y="297.01" font-size="5.06" text-anchor="middle">0</text>
<text x="411.01" y="297.01" font-size="5.06" text-anchor="middle">100</text>
<text x="429.52" y="297.01" font-size="5.06" text-anchor="middle">200</text>
<text x="448.04" y="297.01" font-size="5.06" text-anchor="middle">300</text>
<text x="466.55" y="297.01" font-size="5.06" text-anchor="middle">400</text>
<text x="485.06" y="297.01" font-size="5.06" text-anchor="middle">500</text>
<text x="503.58" y="297.01" font-size="5.06" text-anchor="middle">600</text>
<text x="522.09" y="297.01" font-size="5.06" text-anchor="middle">700</text>
<text x="540.60" y="297.01" font-size="5.06" text-anchor="middle">800</text>
<text x="390.00" y="172.31" font-size="4.50" text-anchor="end">10<tspan font-size="3.60" dy="-2.22">5</tspan></text>
<text x="390.00" y="189.34" font-size="4.50" text-anchor="end">10<tspan font-size="3.60" dy="-2.22">0</tspan></text>
<text x="390.00" y="206.37" font-size="4.50" text-anchor="end">10<tspan font-size="3.60" dy="-2.22">-5</tspan></text>
<text x="390.00" y="223.40" font-size="4.50" text-anchor="end">10<tspan font-size="3.60" dy="-2.22">-10</tspan></text>
<text x="390.00" y="240.43" font-size="4.50" text-anchor="end">10<tspan font-size="3.60" dy="-2.22">-15</tspan></text>
<text x="390.00" y="257.45" font-size="4.50" text-anchor="end">10<tspan font-size="3.60" dy="-2.22">-20</tspan></text>
<text x="390.00" y="274.48" font-size="4.50" text-anchor="end">10<tspan font-size="3.60" dy="-2.22">-25</tspan></text>
<text x="390.00" y="291.51" font-size="4.50" text-anchor="end">10<tspan font-size="3.60" dy="-2.22">-30</tspan></text>
<text x="466.55" y="167.76" font-size="5.17" text-anchor="middle">Booth</text>
<text x="466.55" y="304.24" font-size="5.12" text-anchor="middle">Iteration</text>
<text transform="translate(377.34,230.00) rotate(-90)" font-size="5.12" text-anchor="middle">Best Value obtained so far</text>
<rect x="493.5" y="174.0" width="43.00" height="40.10" fill="#fff" stroke="#555" stroke-width="0.6"/>
<line x1="495.1" y1="177.30" x2="504.9" y2="177.30" stroke="#f2e432" stroke-width="1.05"/>
<text x="506.1" y="178.83" font-size="4.24">MDE</text>
<line x1="495.1" y1="182.88" x2="504.9" y2="182.88" stroke="#3ee6f0" stroke-width="1.05"/>
<text x="506.1" y="184.41" font-size="4.24">distABC</text>
<line x1="495.1" y1="188.46" x2="504.9" y2="188.46" stroke="#f04ef0" stroke-width="1.05"/>
<text x="506.1" y="189.99" font-size="4.24">IGSA/PSO</text>
<line x1="495.1" y1="194.04" x2="504.9" y2="194.04" stroke="#4ee24e" stroke-width="1.05"/>
<text x="506.1" y="195.57" font-size="4.24">ADN-RSN-PSO</text>
<line x1="495.1" y1="199.62" x2="504.9" y2="199.62" stroke="#444444" stroke-width="1.05"/>
<text x="506.1" y="201.15" font-size="4.24">PSO-GWO</text>
<line x1="495.1" y1="205.20" x2="504.9" y2="205.20" stroke="#4646f0" stroke-width="1.05"/>
<text x="506.1" y="206.73" font-size="4.24">SSA</text>
<line x1="495.1" y1="210.78" x2="504.9" y2="210.78" stroke="#f04646" stroke-width="1.05"/>
<text x="506.1" y="212.31" font-size="4.24">ISSA</text>
<text class="cap" x="456.75" y="320.60" font-size="13.5" text-anchor="middle" font-weight="normal" letter-spacing="1.1">(f)</text>
</g>
<g id="pg">
<clipPath id="cg"><rect x="20.70" y="336.10" width="150.10" height="121.70"/></clipPath>
<path d="M21.30,457.2v-1.4M21.30,336.7v1.4M39.91,457.2v-1.4M39.91,336.7v1.4M58.52,457.2v-1.4M58.52,336.7v1.4M77.14,457.2v-1.4M77.14,336.7v1.4M95.75,457.2v-1.4M95.75,336.7v1.4M114.36,457.2v-1.4M114.36,336.7v1.4M132.97,457.2v-1.4M132.97,336.7v1.4M151.59,457.2v-1.4M151.59,336.7v1.4M170.20,457.2v-1.4M170.20,336.7v1.4M21.3,346.50h1.4M170.2,346.50h-1.4M21.3,362.51h1.4M170.2,362.51h-1.4M21.3,377.12h1.4M170.2,377.12h-1.4M21.3,390.56h1.4M170.2,390.56h-1.4M21.3,403.01h1.4M170.2,403.01h-1.4M21.3,414.59h1.4M170.2,414.59h-1.4M21.3,425.43h1.4M170.2,425.43h-1.4M21.3,435.61h1.4M170.2,435.61h-1.4M21.3,445.21h1.4M170.2,445.21h-1.4M21.3,454.29h1.4M170.2,454.29h-1.4" stroke="#777" stroke-width="0.5" fill="none"/>
<rect x="21.3" y="336.7" width="148.90" height="120.50" fill="none" stroke="#777" stroke-width="0.8"/>
<g clip-path="url(#cg)" fill="none" stroke-linejoin="round">
<polyline points="21.70,345.00 21.70,386.00" stroke="#f2e432" stroke-width="1.05"/>
<polyline points="21.60,398.00 21.70,422.00" stroke="#4646f0" stroke-width="1.05"/>
<polyline points="21.60,412.00 22.00,440.00 23.00,444.10 54.10,444.10" stroke="#444444" stroke-width="1.05"/>
<polyline points="21.50,336.70 22.30,336.70 22.30,347.50 23.00,347.50 23.00,426.30 25.50,426.30 25.70,440.00 26.10,440.00 26.20,426.30 32.50,426.30 32.50,380.90 34.60,380.90 34.60,422.00 36.80,422.70 37.50,428.50 39.00,432.20 40.00,438.00 42.80,438.00 43.20,431.60 48.30,431.60 48.80,424.20 54.30,424.20 54.60,400.90 57.90,400.90 58.20,448.00 60.20,448.00 60.30,438.00 65.00,438.00 65.10,357.40 71.30,357.10 72.10,372.50 74.60,372.50 74.60,450.30 77.20,450.30 77.20,372.50 82.00,372.50 82.20,345.20 83.00,439.30 86.40,439.30 87.70,385.30 88.90,405.40 92.70,405.40 92.70,377.20 93.40,395.30" stroke="#3ee6f0" stroke-width="1.05"/>
<polyline points="21.70,380.00 21.80,405.00 22.50,412.00 23.00,422.00 24.00,443.10 54.10,443.10 54.30,443.10 54.30,448.30 162.50,448.30 162.60,448.30 162.60,454.40 170.20,454.40" stroke="#4ee24e" stroke-width="1.05"/>
<polyline points="21.60,420.00 22.00,444.00 23.00,445.10 41.10,445.10 43.10,445.10 43.10,451.20 50.10,451.20 50.30,451.20 50.30,456.60 170.20,456.60" stroke="#f04ef0" stroke-width="1.05"/>
<polyline points="21.60,414.00 21.80,432.00 22.30,441.00 23.50,445.10 170.20,445.10" stroke="#f04646" stroke-width="1.05"/>
</g>
<text x="21.30" y="463.98" font-size="4.98" text-anchor="middle">0</text>
<text x="39.91" y="463.98" font-size="4.98" text-anchor="middle">100</text>
<text x="58.52" y="463.98" font-size="4.98" text-anchor="middle">200</text>
<text x="77.14" y="463.98" font-size="4.98" text-anchor="middle">300</text>
<text x="95.75" y="463.98" font-size="4.98" text-anchor="middle">400</text>
<text x="114.36" y="463.98" font-size="4.98" text-anchor="middle">500</text>
<text x="132.97" y="463.98" font-size="4.98" text-anchor="middle">600</text>
<text x="151.59" y="463.98" font-size="4.98" text-anchor="middle">700</text>
<text x="170.20" y="463.98" font-size="4.98" text-anchor="middle">800</text>
<text x="18.90" y="348.29" font-size="4.98" text-anchor="end">-1</text>
<text x="18.90" y="364.30" font-size="4.98" text-anchor="end">-1.1</text>
<text x="18.90" y="378.91" font-size="4.98" text-anchor="end">-1.2</text>
<text x="18.90" y="392.36" font-size="4.98" text-anchor="end">-1.3</text>
<text x="18.90" y="404.80" font-size="4.98" text-anchor="end">-1.4</text>
<text x="18.90" y="416.39" font-size="4.98" text-anchor="end">-1.5</text>
<text x="18.90" y="427.23" font-size="4.98" text-anchor="end">-1.6</text>
<text x="18.90" y="437.41" font-size="4.98" text-anchor="end">-1.7</text>
<text x="18.90" y="447.01" font-size="4.98" text-anchor="end">-1.8</text>
<text x="18.90" y="456.09" font-size="4.98" text-anchor="end">-1.9</text>
<text x="95.75" y="335.13" font-size="5.09" text-anchor="middle" font-style="italic">Michalewicz2</text>
<text x="95.75" y="471.21" font-size="5.04" text-anchor="middle">Iteration</text>
<text transform="translate(8.91,397.75) rotate(-90)" font-size="5.04" text-anchor="middle">Best Value obtained so far</text>
<rect x="122.5" y="341.4" width="43.30" height="40.00" fill="#fff" stroke="#555" stroke-width="0.6"/>
<line x1="123.8" y1="344.90" x2="133.8" y2="344.90" stroke="#f2e432" stroke-width="1.05"/>
<text x="135.1" y="346.41" font-size="4.19">MDE</text>
<line x1="123.8" y1="350.48" x2="133.8" y2="350.48" stroke="#3ee6f0" stroke-width="1.05"/>
<text x="135.1" y="351.99" font-size="4.19">distABC</text>
<line x1="123.8" y1="356.06" x2="133.8" y2="356.06" stroke="#f04ef0" stroke-width="1.05"/>
<text x="135.1" y="357.57" font-size="4.19">IGSA/PSO</text>
<line x1="123.8" y1="361.64" x2="133.8" y2="361.64" stroke="#4ee24e" stroke-width="1.05"/>
<text x="135.1" y="363.15" font-size="4.19">ADN-RSN-PSO</text>
<line x1="123.8" y1="367.22" x2="133.8" y2="367.22" stroke="#444444" stroke-width="1.05"/>
<text x="135.1" y="368.73" font-size="4.19">PSO-GWO</text>
<line x1="123.8" y1="372.80" x2="133.8" y2="372.80" stroke="#4646f0" stroke-width="1.05"/>
<text x="135.1" y="374.31" font-size="4.19">SSA</text>
<line x1="123.8" y1="378.38" x2="133.8" y2="378.38" stroke="#f04646" stroke-width="1.05"/>
<text x="135.1" y="379.89" font-size="4.19">ISSA</text>
<text class="cap" x="87.10" y="490.00" font-size="13.5" text-anchor="middle" font-weight="bold">(g)</text>
</g>
<g id="ph">
<clipPath id="ch"><rect x="204.60" y="336.40" width="152.90" height="120.80"/></clipPath>
<path d="M205.20,456.6v-1.4M205.20,337.0v1.4M224.16,456.6v-1.4M224.16,337.0v1.4M243.12,456.6v-1.4M243.12,337.0v1.4M262.09,456.6v-1.4M262.09,337.0v1.4M281.05,456.6v-1.4M281.05,337.0v1.4M300.01,456.6v-1.4M300.01,337.0v1.4M318.97,456.6v-1.4M318.97,337.0v1.4M337.94,456.6v-1.4M337.94,337.0v1.4M356.90,456.6v-1.4M356.90,337.0v1.4M205.2,344.80h1.4M356.9,344.80h-1.4M205.2,373.28h1.4M356.9,373.28h-1.4M205.2,395.38h1.4M356.9,395.38h-1.4M205.2,413.43h1.4M356.9,413.43h-1.4M205.2,428.70h1.4M356.9,428.70h-1.4M205.2,441.92h1.4M356.9,441.92h-1.4M205.2,453.58h1.4M356.9,453.58h-1.4" stroke="#777" stroke-width="0.5" fill="none"/>
<rect x="205.2" y="337.0" width="151.70" height="119.60" fill="none" stroke="#777" stroke-width="0.8"/>
<g clip-path="url(#ch)" fill="none" stroke-linejoin="round">
<polyline points="205.50,418.40 206.00,418.40 213.00,419.50 356.90,419.50" stroke="#4ee24e" stroke-width="1.05"/>
<polyline points="205.80,384.50 209.50,384.50 210.90,384.50 210.90,388.10 213.80,388.10 215.30,388.10 215.30,392.50 217.50,392.50 218.20,392.50 218.20,400.90 240.00,400.90 240.70,400.90 240.70,411.30 326.20,411.30 326.20,411.50 326.50,411.50 326.50,417.30 356.90,417.30" stroke="#444444" stroke-width="1.05"/>
<polyline points="205.80,388.80 217.50,388.80 218.60,393.20 231.30,393.20 232.00,392.50 245.10,392.50 245.40,381.50 258.20,381.50 258.90,380.80 264.70,380.80 265.50,394.60 272.00,394.60 272.40,381.30 274.90,381.30 275.60,391.90 281.00,392.20" stroke="#3ee6f0" stroke-width="1.05"/>
<polyline points="205.80,345.00 205.80,371.40 209.50,371.40 210.20,371.40 210.20,377.20 221.80,377.20 222.50,377.20 222.50,381.50 223.30,381.50 223.30,385.90 226.90,385.90 226.90,386.60 227.30,386.60 227.30,411.10 238.50,411.10 238.50,411.50 239.30,411.50 239.30,414.00 242.00,414.00 242.00,414.50 242.90,414.50 242.90,418.40 248.00,418.40 248.70,418.40 248.70,432.90 250.20,432.90 250.20,435.80 259.60,435.80 259.60,436.50 261.10,436.50 261.10,439.50 263.30,439.50 263.30,443.10 356.90,443.10 356.90,444.10" stroke="#f04ef0" stroke-width="1.05"/>
<polyline points="205.60,400.00 206.50,416.20 208.00,433.60 209.50,448.20 214.50,448.20 216.00,451.00 217.50,456.00 356.90,456.00" stroke="#f2e432" stroke-width="1.05"/>
<polyline points="205.50,340.00 205.80,380.00 206.50,432.20 208.70,436.50 209.50,456.00 356.90,456.00" stroke="#4646f0" stroke-width="1.05"/>
<polyline points="205.50,337.00 205.60,360.00 206.50,400.00 207.30,408.90 266.20,408.90 266.60,432.20 267.30,433.00 267.60,456.20 356.90,456.20" stroke="#f04646" stroke-width="1.05"/>
</g>
<text x="205.20" y="463.88" font-size="4.96" text-anchor="middle">0</text>
<text x="224.16" y="463.88" font-size="4.96" text-anchor="middle">100</text>
<text x="243.12" y="463.88" font-size="4.96" text-anchor="middle">200</text>
<text x="262.09" y="463.88" font-size="4.96" text-anchor="middle">300</text>
<text x="281.05" y="463.88" font-size="4.96" text-anchor="middle">400</text>
<text x="300.01" y="463.88" font-size="4.96" text-anchor="middle">500</text>
<text x="318.97" y="463.88" font-size="4.96" text-anchor="middle">600</text>
<text x="337.94" y="463.88" font-size="4.96" text-anchor="middle">700</text>
<text x="356.90" y="463.88" font-size="4.96" text-anchor="middle">800</text>
<text x="202.20" y="346.58" font-size="4.96" text-anchor="end">-1.5</text>
<text x="202.20" y="375.07" font-size="4.96" text-anchor="end">-2</text>
<text x="202.20" y="397.17" font-size="4.96" text-anchor="end">-2.5</text>
<text x="202.20" y="415.22" font-size="4.96" text-anchor="end">-3</text>
<text x="202.20" y="430.48" font-size="4.96" text-anchor="end">-3.5</text>
<text x="202.20" y="443.71" font-size="4.96" text-anchor="end">-4</text>
<text x="202.20" y="455.37" font-size="4.96" text-anchor="end">-4.5</text>
<text x="281.05" y="335.12" font-size="5.07" text-anchor="middle">Michalewicz5</text>
<text x="281.05" y="471.01" font-size="5.02" text-anchor="middle">Iteration</text>
<text transform="translate(192.21,397.60) rotate(-90)" font-size="5.02" text-anchor="middle">Best Value obtained so far</text>
<rect x="308.3" y="341.5" width="44.30" height="39.90" fill="#fff" stroke="#555" stroke-width="0.6"/>
<line x1="310" y1="345.60" x2="319.4" y2="345.60" stroke="#f2e432" stroke-width="1.05"/>
<text x="321" y="347.18" font-size="4.38">MDE</text>
<line x1="310" y1="351.08" x2="319.4" y2="351.08" stroke="#3ee6f0" stroke-width="1.05"/>
<text x="321" y="352.66" font-size="4.38">distABC</text>
<line x1="310" y1="356.56" x2="319.4" y2="356.56" stroke="#f04ef0" stroke-width="1.05"/>
<text x="321" y="358.14" font-size="4.38">IGSA/PSO</text>
<line x1="310" y1="362.04" x2="319.4" y2="362.04" stroke="#4ee24e" stroke-width="1.05"/>
<text x="321" y="363.62" font-size="4.38">ADN-RSN-PSO</text>
<line x1="310" y1="367.52" x2="319.4" y2="367.52" stroke="#444444" stroke-width="1.05"/>
<text x="321" y="369.10" font-size="4.38">PSO-GWO</text>
<line x1="310" y1="373.00" x2="319.4" y2="373.00" stroke="#4646f0" stroke-width="1.05"/>
<text x="321" y="374.58" font-size="4.38">SSA</text>
<line x1="310" y1="378.48" x2="319.4" y2="378.48" stroke="#f04646" stroke-width="1.05"/>
<text x="321" y="380.06" font-size="4.38">ISSA</text>
<text class="cap" x="270.80" y="490.50" font-size="13.5" text-anchor="middle" font-weight="bold">(h)</text>
</g>
<g id="pi">
<clipPath id="ci"><rect x="384.90" y="334.70" width="153.30" height="124.10"/></clipPath>
<path d="M385.50,458.2v-1.4M385.50,335.3v1.4M404.51,458.2v-1.4M404.51,335.3v1.4M423.52,458.2v-1.4M423.52,335.3v1.4M442.54,458.2v-1.4M442.54,335.3v1.4M461.55,458.2v-1.4M461.55,335.3v1.4M480.56,458.2v-1.4M480.56,335.3v1.4M499.58,458.2v-1.4M499.58,335.3v1.4M518.59,458.2v-1.4M518.59,335.3v1.4M537.60,458.2v-1.4M537.60,335.3v1.4M385.5,336.30h1.4M537.6,336.30h-1.4M385.5,373.78h1.4M537.6,373.78h-1.4M385.5,395.70h1.4M537.6,395.70h-1.4M385.5,411.26h1.4M537.6,411.26h-1.4M385.5,423.32h1.4M537.6,423.32h-1.4M385.5,433.18h1.4M537.6,433.18h-1.4M385.5,441.51h1.4M537.6,441.51h-1.4M385.5,448.73h1.4M537.6,448.73h-1.4M385.5,455.10h1.4M537.6,455.10h-1.4" stroke="#777" stroke-width="0.5" fill="none"/>
<rect x="385.5" y="335.3" width="152.10" height="122.90" fill="none" stroke="#777" stroke-width="0.8"/>
<g clip-path="url(#ci)" fill="none" stroke-linejoin="round">
<polyline points="385.80,335.50 387.00,335.50 387.30,353.30 388.70,356.20 398.20,356.20 398.20,356.90 398.90,356.90 398.90,362.00 401.50,362.00 401.50,363.20 406.90,363.20 408.40,363.20 408.40,368.10 419.30,368.10 419.30,368.50 420.00,368.50 420.00,371.50 437.50,371.50 437.50,372.50 438.90,372.50 438.90,373.30 537.60,373.30" stroke="#f04ef0" stroke-width="1.05"/>
<polyline points="386.20,399.20 412.20,399.20 412.50,395.40 423.30,395.40 423.80,411.00 451.20,411.00 451.50,392.40 455.90,392.40 456.60,399.20 460.40,399.20" stroke="#3ee6f0" stroke-width="1.05"/>
<polyline points="385.40,408.20 386.20,410.00 537.60,410.10" stroke="#4ee24e" stroke-width="1.05"/>
<polyline points="385.60,360.00 386.20,407.40 399.30,407.90 400.10,407.90 400.10,413.60 401.40,413.60 401.40,422.20 420.20,422.20 422.00,422.20 422.00,423.50 424.10,423.50 424.10,425.20 426.40,425.20 426.40,429.90 501.00,429.90 501.00,430.00 501.50,430.00 501.50,431.10 537.60,431.10" stroke="#444444" stroke-width="1.05"/>
<polyline points="385.40,385.00 387.00,400.50 387.70,422.20 391.60,425.60 416.40,425.60 417.60,425.60 417.60,433.80 490.20,433.80 490.40,433.80 490.40,439.80 499.70,439.80 499.90,439.80 499.90,446.50 513.30,446.50 513.50,446.50 513.50,452.00 537.60,452.00" stroke="#4646f0" stroke-width="1.05"/>
<polyline points="386.20,400.50 387.50,420.00 391.60,426.80 393.90,431.40 395.50,436.10 401.70,438.40 402.10,448.50 417.20,448.50 419.50,452.30 434.20,452.30 437.30,454.40 446.60,456.50 537.60,456.80" stroke="#f2e432" stroke-width="1.05"/>
<polyline points="385.40,397.40 387.00,412.90 388.50,420.60 390.10,423.70 391.50,426.00 392.40,429.90 393.90,433.00 431.10,433.80 432.70,438.50 434.20,446.90 435.70,452.30 438.80,454.70 445.00,456.20 448.10,457.50 537.60,457.50" stroke="#f04646" stroke-width="1.05"/>
</g>
<text x="385.50" y="465.46" font-size="5.21" text-anchor="middle">0</text>
<text x="404.51" y="465.46" font-size="5.21" text-anchor="middle">100</text>
<text x="423.52" y="465.46" font-size="5.21" text-anchor="middle">200</text>
<text x="442.54" y="465.46" font-size="5.21" text-anchor="middle">300</text>
<text x="461.55" y="465.46" font-size="5.21" text-anchor="middle">400</text>
<text x="480.56" y="465.46" font-size="5.21" text-anchor="middle">500</text>
<text x="499.58" y="465.46" font-size="5.21" text-anchor="middle">600</text>
<text x="518.59" y="465.46" font-size="5.21" text-anchor="middle">700</text>
<text x="537.60" y="465.46" font-size="5.21" text-anchor="middle">800</text>
<text x="383.30" y="338.17" font-size="5.21" text-anchor="end">-1</text>
<text x="383.30" y="375.65" font-size="5.21" text-anchor="end">-2</text>
<text x="383.30" y="397.58" font-size="5.21" text-anchor="end">-3</text>
<text x="383.30" y="413.13" font-size="5.21" text-anchor="end">-4</text>
<text x="383.30" y="425.20" font-size="5.21" text-anchor="end">-5</text>
<text x="383.30" y="435.05" font-size="5.21" text-anchor="end">-6</text>
<text x="383.30" y="443.39" font-size="5.21" text-anchor="end">-7</text>
<text x="383.30" y="450.61" font-size="5.21" text-anchor="end">-8</text>
<text x="383.30" y="456.98" font-size="5.21" text-anchor="end">-9</text>
<text x="461.55" y="333.31" font-size="5.32" text-anchor="middle" font-style="italic">Michalewicz10</text>
<text x="461.55" y="472.09" font-size="5.26" text-anchor="middle">Iteration</text>
<text transform="translate(376.59,397.05) rotate(-90)" font-size="5.26" text-anchor="middle">Best Value obtained so far</text>
<rect x="489.4" y="339.9" width="44.40" height="41.20" fill="#fff" stroke="#555" stroke-width="0.6"/>
<line x1="490.7" y1="343.70" x2="500.8" y2="343.70" stroke="#f2e432" stroke-width="1.05"/>
<text x="502.1" y="345.27" font-size="4.35">MDE</text>
<line x1="490.7" y1="349.38" x2="500.8" y2="349.38" stroke="#3ee6f0" stroke-width="1.05"/>
<text x="502.1" y="350.95" font-size="4.35">distABC</text>
<line x1="490.7" y1="355.06" x2="500.8" y2="355.06" stroke="#f04ef0" stroke-width="1.05"/>
<text x="502.1" y="356.63" font-size="4.35">IGSA/PSO</text>
<line x1="490.7" y1="360.74" x2="500.8" y2="360.74" stroke="#4ee24e" stroke-width="1.05"/>
<text x="502.1" y="362.31" font-size="4.35">ADN-RSN-PSO</text>
<line x1="490.7" y1="366.42" x2="500.8" y2="366.42" stroke="#444444" stroke-width="1.05"/>
<text x="502.1" y="367.99" font-size="4.35">PSO-GWO</text>
<line x1="490.7" y1="372.10" x2="500.8" y2="372.10" stroke="#4646f0" stroke-width="1.05"/>
<text x="502.1" y="373.67" font-size="4.35">SSA</text>
<line x1="490.7" y1="377.78" x2="500.8" y2="377.78" stroke="#f04646" stroke-width="1.05"/>
<text x="502.1" y="379.35" font-size="4.35">ISSA</text>
<text class="cap" x="454.95" y="490.50" font-size="13.5" text-anchor="middle" font-weight="normal" letter-spacing="1.1">(i)</text>
</g>
</svg></body></html>
